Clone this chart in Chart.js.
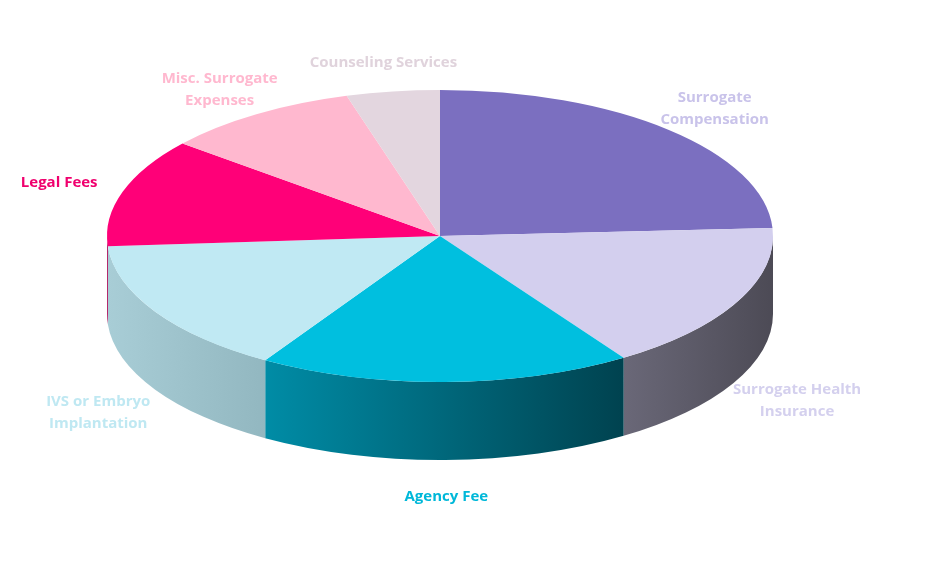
<!DOCTYPE html>
<html>
<head>
<meta charset="utf-8">
<script src="https://cdn.jsdelivr.net/npm/chart.js@4.4.0/dist/chart.umd.min.js"></script>
<style>
  html, body { margin: 0; padding: 0; background: #ffffff; }
  #wrap { position: relative; width: 930px; height: 573px; }
</style>
</head>
<body>
<div id="wrap"><canvas id="pieChart"></canvas></div>
<script>
// Chart data
const categories = [
  ['Surrogate', 'Compensation'],
  ['Surrogate Health', 'Insurance'],
  ['Agency Fee'],
  ['IVS or Embryo', 'Implantation'],
  ['Legal Fees'],
  ['Misc. Surrogate', 'Expenses'],
  ['Counseling Services']
];
const costShares = [24, 16.5, 18, 15, 12, 9.5, 4.5];
const sliceColors = ['#7b6fc0', '#d3cfee', '#00bfdf', '#c0e9f3', '#ff0078', '#ffb8cf', '#e3d6df'];
const sideColors = [['#5d5491', '#4a4374'], ['#6a6878', '#4c4a55'], ['#008ca6', '#00424f'], ['#a8cdd6', '#92b7c0'], ['#b30055', '#800040'], ['#c98fa2', '#a87686'], ['#b3a6af', '#968b93']];
const labelColors = ['#c9c3ea', '#d4d0ee', '#00b8d9', '#bfe8f2', '#f0006e', '#ffb8cf', '#e0d3dc'];

// 3D look
const centerX = 440, centerY = 236, radiusX = 333, radiusY = 146, depth = 78;

function viewTransform(ctx, el) {
  const s = el.outerRadius;
  ctx.translate(centerX, centerY);
  ctx.scale(radiusX / s, radiusY / s);
  ctx.translate(-el.x, -el.y);
}

const pie3d = {
  id: 'pie3d',
  beforeDatasetsDraw(chart) {
    const ctx = chart.ctx;
    const arcs = chart.getDatasetMeta(0).data;
    const el0 = arcs[0];
    const dLocal = depth * el0.outerRadius / radiusY;
    ctx.save();
    viewTransform(ctx, el0);
    arcs.forEach((el, i) => {
      // only the front half (canvas angles 0..PI) shows a side wall
      const norm = a => { while (a < 0) a += Math.PI * 2; while (a >= Math.PI * 2) a -= Math.PI * 2; return a; };
      const s = norm(el.startAngle), e = s + (el.endAngle - el.startAngle);
      const ranges = [];
      const lo = Math.max(s, 0), hi = Math.min(e, Math.PI);
      if (hi > lo) ranges.push([lo, hi]);
      const lo2 = Math.max(s, Math.PI * 2), hi2 = Math.min(e, Math.PI * 3);
      if (hi2 > lo2) ranges.push([lo2, hi2]);
      ranges.forEach(([p, q]) => {
        const R = el.outerRadius;
        const x1 = el.x + R * Math.cos(p), x2 = el.x + R * Math.cos(q);
        const g = ctx.createLinearGradient(Math.min(x1, x2), 0, Math.max(x1, x2) + 1, 0);
        g.addColorStop(0, sideColors[i][0]);
        g.addColorStop(1, sideColors[i][1]);
        ctx.beginPath();
        ctx.arc(el.x, el.y, R, p, q);
        ctx.arc(el.x, el.y + dLocal, R, q, p, true);
        ctx.closePath();
        ctx.fillStyle = g;
        ctx.fill();
      });
    });
  },
  afterDatasetsDraw(chart) {
    const ctx = chart.ctx;
    ctx.restore();
    // labels around the pie
    const arcs = chart.getDatasetMeta(0).data;
    ctx.save();
    ctx.font = 'bold 15px "Open Sans", "Liberation Sans", sans-serif';
    ctx.textAlign = 'center';
    ctx.textBaseline = 'middle';
    arcs.forEach((el, i) => {
      const mid = (el.startAngle + el.endAngle) / 2;
      const k = 1.2;
      let x = centerX + k * radiusX * Math.cos(mid);
      let y = centerY + k * radiusY * Math.sin(mid);
      if (Math.sin(mid) > 0.2) y += depth + 8;
      const lines = categories[i];
      ctx.fillStyle = labelColors[i];
      lines.forEach((t, j) => {
        ctx.fillText(t, x, y + (j - (lines.length - 1) / 2) * 22);
      });
    });
    ctx.restore();
  }
};

new Chart(document.getElementById('pieChart').getContext('2d'), {
  type: 'pie',
  data: {
    labels: categories.map(c => c.join(' ')),
    datasets: [{
      data: costShares,
      backgroundColor: sliceColors,
      borderWidth: 0
    }]
  },
  options: {
    responsive: true,
    maintainAspectRatio: false,
    animation: false,
    layout: { padding: 40 },
    plugins: {
      legend: { display: false },
      tooltip: { enabled: false }
    }
  },
  plugins: [pie3d]
});
</script>
</body>
</html>
